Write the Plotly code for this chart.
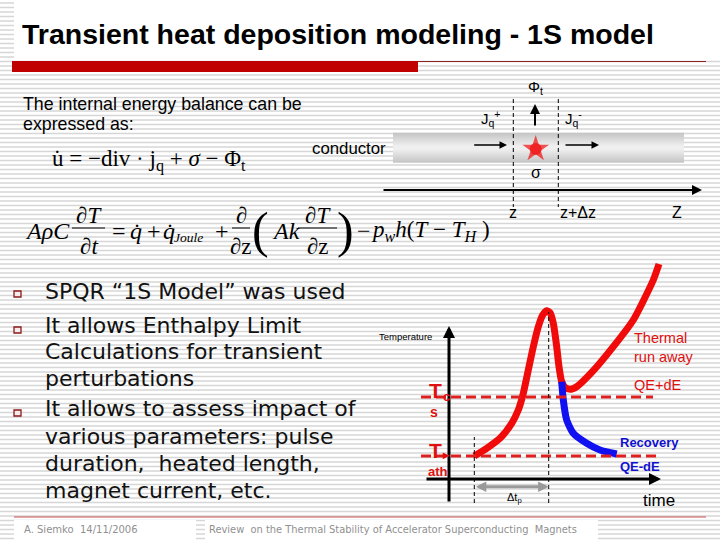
import plotly.graph_objects as go
import numpy as np

# ---------------- data (inset: temperature vs time, arbitrary units) ----------------
red_time = [2.53, 3.77, 5.1, 6.27, 6.93, 7.43, 7.93, 8.43, 8.93, 9.37, 9.77, 10.1, 10.43,
            10.77, 11.0, 11.27, 11.6, 12.1, 12.77, 14.43, 16.43, 18.43, 20.43, 21.0]
red_temp = [2.3, 3.07, 4.07, 5.57, 6.9, 8.57, 10.9, 13.23, 15.23, 16.4, 16.83, 16.63, 15.57,
            13.23, 11.23, 9.73, 9.17, 8.97, 9.23, 10.83, 13.23, 15.9, 19.9, 21.5]
blue_time = [11.27, 11.43, 11.77, 12.43, 13.77, 15.1, 16.77]
blue_temp = [9.73, 7.9, 5.9, 4.57, 3.57, 2.9, 2.5]
T_c = 8.2
T_bath = 2.3
pulse_start = 2.53
pulse_end = 9.97

title = "Transient heat deposition modeling - 1S model"
intro = ["The internal energy balance can be", "expressed as:"]
bullets = [["SPQR \u201c1S Model\u201d was used"],
           ["It allows Enthalpy Limit", "Calculations for transient", "perturbations"],
           ["It allows to assess impact of", "various parameters: pulse",
            "duration,  heated length,", "magnet current, etc."]]
footer_left = "A. Siemko  14/11/2006"
footer_right = "Review  on the Thermal Stability of Accelerator Superconducting  Magnets"

W, H = 720, 540
fig = go.Figure()

# page coordinate system (pixels)
fig.update_layout(
    width=W, height=H, margin=dict(l=0, r=0, t=0, b=0),
    paper_bgcolor="white", plot_bgcolor="rgba(0,0,0,0)", showlegend=False,
    xaxis=dict(range=[0, W], domain=[0, 1], visible=False, fixedrange=True),
    yaxis=dict(range=[H, 0], domain=[0, 1], visible=False, fixedrange=True),
)
# inset axes: t -> x_px = 449 + 10 t ; T -> y_px = 479 - 10 T
x0px, x1px = 400, 720
ytop, ybot = 250, 510
fig.update_layout(
    xaxis2=dict(domain=[x0px / W, x1px / W], range=[(x0px - 449) / 10, (x1px - 449) / 10],
                visible=False, anchor="y2", fixedrange=True),
    yaxis2=dict(domain=[(H - ybot) / H, (H - ytop) / H], range=[(479 - ybot) / 10, (479 - ytop) / 10],
                visible=False, anchor="x2", fixedrange=True),
)

shapes = []
# striped background
ys = np.arange(3, H, 4.5)
path = "".join(f"M0,{y:.1f}H{W}" for y in ys)
shapes.append(dict(type="path", path=path, xref="x", yref="y", layer="below",
                   line=dict(color="#d6d6d6", width=1.4)))
# white boxes (title, footer)
shapes.append(dict(type="rect", x0=14, x1=W, y0=0, y1=60, xref="x", yref="y", layer="below",
                   fillcolor="white", line=dict(width=0)))
shapes.append(dict(type="rect", x0=14, x1=196, y0=520, y1=H, xref="x", yref="y", layer="below",
                   fillcolor="white", line=dict(width=0)))
shapes.append(dict(type="rect", x0=205, x1=598, y0=520, y1=H, xref="x", yref="y", layer="below",
                   fillcolor="white", line=dict(width=0)))
# red title bar + thin line
shapes.append(dict(type="rect", x0=12, x1=418, y0=61, y1=72, xref="x", yref="y", layer="below",
                   fillcolor="#c00000", line=dict(width=0)))
shapes.append(dict(type="line", x0=418, x1=706, y0=61.5, y1=61.5, xref="x", yref="y", layer="below",
                   line=dict(color="#8b2020", width=1)))
# footer line
shapes.append(dict(type="line", x0=14, x1=706, y0=517, y1=517, xref="x", yref="y", layer="below",
                   line=dict(color="#c85050", width=1)))
# bullets
for yb in [294, 330, 413]:
    shapes.append(dict(type="rect", x0=14, x1=21, y0=yb - 3, y1=yb + 3, xref="x", yref="y",
                       fillcolor="#f6eaea", line=dict(color="#8b1a1a", width=1.3)))
# conductor diagram dashed verticals
for xv in [513.3, 558.3]:
    shapes.append(dict(type="line", x0=xv, x1=xv, y0=99, y1=207, xref="x", yref="y",
                       line=dict(color="black", width=1, dash="4px,3px")))
# fraction bars of equation
for (a, b) in [(72, 105), (232, 250), (298, 337)]:
    shapes.append(dict(type="line", x0=a, x1=b, y0=228, y1=228, xref="x", yref="y",
                       line=dict(color="black", width=1)))
# inset: dashed temperature levels
shapes.append(dict(type="line", x0=-2.8, x1=20.4, y0=T_c, y1=T_c, xref="x2", yref="y2",
                   line=dict(color="#e02020", width=3, dash="10px,5px")))
shapes.append(dict(type="line", x0=-2.8, x1=20.9, y0=T_bath, y1=T_bath, xref="x2", yref="y2",
                   line=dict(color="#e02020", width=3, dash="10px,5px")))
# pulse start/end
shapes.append(dict(type="line", x0=pulse_start, x1=pulse_start, y0=-2.4, y1=4.2, xref="x2", yref="y2",
                   line=dict(color="black", width=1, dash="4px,3px")))
shapes.append(dict(type="line", x0=pulse_end, x1=pulse_end, y0=-2.4, y1=16.7, xref="x2", yref="y2",
                   line=dict(color="black", width=1, dash="4px,3px")))
fig.update_layout(shapes=shapes)

# conductor cylinder with gradient
fig.add_trace(go.Scatter(x=[393, 684, 684, 393, 393], y=[132.7, 132.7, 162.7, 162.7, 132.7],
                         mode="lines", fill="toself", line=dict(width=0),
                         fillgradient=dict(type="vertical",
                                           colorscale=[[0, "#c4c4c4"], [0.45, "#efefef"],
                                                       [0.55, "#efefef"], [1, "#c4c4c4"]]),
                         hoverinfo="skip", xaxis="x", yaxis="y"))
# heat source blob
fig.add_trace(go.Scatter(x=[535.7, 535.7], y=[149, 149], mode="markers",
                         marker=dict(symbol=["circle", "star"], size=[12, 20], color="#f01010",
                                     line=dict(width=0)),
                         hoverinfo="skip", xaxis="x", yaxis="y"))

# inset curves
fig.add_trace(go.Scatter(x=red_time, y=red_temp, mode="lines", line=dict(color="#f00a0a", width=7,
                         shape="spline", smoothing=0.6), xaxis="x2", yaxis="y2", cliponaxis=False,
                         hoverinfo="skip"))
fig.add_trace(go.Scatter(x=blue_time, y=blue_temp, mode="lines", line=dict(color="#1010f0", width=7,
                         shape="spline", smoothing=0.6), xaxis="x2", yaxis="y2", cliponaxis=False,
                         hoverinfo="skip"))

ann = []


def txt(x, y, s, size, color="black", family="Liberation Sans", xanchor="left", xref="x", yref="y"):
    ann.append(dict(x=x, y=y, text=s, xref=xref, yref=yref, showarrow=False, xanchor=xanchor,
                    yanchor="middle", font=dict(size=size, color=color, family=family)))


def arrow(x, y, ax, ay, color="black", width=1.5, head=2, side="end", xref="x", yref="y", size=1):
    ann.append(dict(x=x, y=y, ax=ax, ay=ay, xref=xref, yref=yref, axref=xref, ayref=yref,
                    showarrow=True, arrowhead=head, arrowwidth=width, arrowcolor=color,
                    arrowside=side, arrowsize=size, startarrowhead=head, startarrowsize=size, text=""))


# title and intro text
txt(20, 34, "<b>" + title + "</b>", 28.5)
txt(21, 104, intro[0], 17.8)
txt(21, 124, intro[1], 17.8)
txt(310, 148, "conductor", 16.8)

# bullets
line_y = [[291.7], [325, 351.7, 378.3], [408.3, 436.7, 463.3, 490]]
for lines, yl in zip(bullets, line_y):
    for s, y in zip(lines, yl):
        txt(43, y, s, 22, color="#111111", family="DejaVu Sans")

# footer
txt(22, 529, footer_left, 10, color="#909090", family="DejaVu Sans")
txt(207, 529, footer_right, 9.9, color="#909090", family="DejaVu Sans")

# conductor diagram
txt(535, 87, "\u03a6<sub>t</sub>", 15, xanchor="center")
txt(490, 118, "J<sub>q</sub><sup>+</sup>", 15, xanchor="center")
txt(573, 118, "J<sub>q</sub><sup>-</sup>", 15, xanchor="center")
txt(536, 172, "\u03c3", 16, xanchor="center")
txt(512.7, 212, "z", 16, xanchor="center")
txt(578, 212, "z+\u0394z", 16, xanchor="center")
txt(677, 212, "Z", 16, xanchor="center")
arrow(535, 104, 535, 127, width=2)
arrow(507, 145, 472.7, 145, width=1.5)
arrow(599, 145, 564, 145, width=1.5)
arrow(702, 190, 382, 190, width=2)

# equations
serif = "Liberation Serif"
txt(50, 160, "u\u0307 = \u2212div \u00b7 j<sub>q</sub> + <i>\u03c3</i> \u2212 \u03a6<sub>t</sub>", 23, family=serif)
ym, yn, yd = 231, 215, 246
txt(23, ym, "<i>A\u03c1C</i>", 24, family=serif)
txt(88.5, yn, "\u2202<i>T</i>", 23, family=serif, xanchor="center")
txt(88.5, yd, "\u2202<i>t</i>", 23, family=serif, xanchor="center")
txt(110, ym, "=", 24, family=serif)
txt(128, ym, "<i>q\u0307</i>", 24, family=serif)
txt(145, ym, "+", 24, family=serif)
txt(161, ym, "<i>q\u0307</i>", 24, family=serif)
txt(172, ym + 6, "<i>Joule</i>", 13.5, family=serif)
txt(213, ym, "+", 24, family=serif)
txt(241, yn, "\u2202", 23, family=serif, xanchor="center")
txt(241, yd, "\u2202z", 23, family=serif, xanchor="center")
txt(250, ym - 1, "(", 50, family=serif)
txt(270, ym, "<i>Ak</i>", 24, family=serif)
txt(317.5, yn, "\u2202<i>T</i>", 23, family=serif, xanchor="center")
txt(317.5, yd, "\u2202z", 23, family=serif, xanchor="center")
txt(335, ym - 1, ")", 50, family=serif)
txt(355, ym, "\u2212", 24, family=serif)
txt(369, ym, "<i>p<sub>w</sub>h</i>(<i>T</i> \u2212 <i>T<sub>H</sub></i> )", 23, family=serif)

# inset annotations
arrow(0, 15.3, 0, -2.4, width=3, head=2, xref="x2", yref="y2", size=0.8)
arrow(21.2, 0, -2.4, 0, width=3, head=2, xref="x2", yref="y2", size=0.8)
arrow(pulse_end, -0.77, pulse_start, -0.77, color="#999999", width=3, head=2, side="end+start",
      xref="x2", yref="y2", size=0.7)
txt(377, 336.5, "Temperature", 9.5)
txt(632, 337.5, "Thermal", 14.5, color="#e01010")
txt(632, 357, "run away", 14.5, color="#e01010")
txt(632, 385, "QE+dE", 14.5, color="#e01010")
txt(618, 442, "<b>Recovery</b>", 13, color="#1010d0")
txt(618, 466.5, "<b>QE-dE</b>", 13, color="#1010d0")
txt(641, 500.5, "time", 17)
txt(514, 498, "\u0394t<sub>p</sub>", 11, xanchor="center")
txt(427, 390.5, "<b>T</b>", 21, color="#e01010")
txt(441, 396, "<b>c</b>", 13, color="#e01010")
txt(428, 411.5, "<b>s</b>", 14, color="#e01010")
txt(427, 450, "<b>T</b>", 21, color="#e01010")
txt(440, 455, "<b>\u25b8</b>", 12, color="#e01010")
txt(426, 471.5, "<b>ath</b>", 13, color="#e01010")

fig.update_layout(annotations=ann)
fig.write_html("out.html", config={"displayModeBar": False},
               post_script="document.body.style.margin='0';document.body.style.overflow='hidden';")
